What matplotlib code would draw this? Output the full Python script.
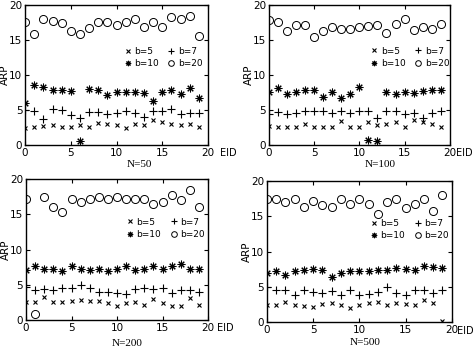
import matplotlib
matplotlib.use("Agg")
import matplotlib.pyplot as plt

eid = list(range(20))
panels = ["N=50", "N=100", "N=200", "N=500"]

# ARP values per panel, one list per b
b5_n50 = [2.4, 2.6, 2.7, 2.9, 2.6, 2.6, 2.9, 2.5, 3.1, 3.0, 2.8, 2.4, 3.0, 2.9, 3.5, 3.2, 3.0, 2.9, 3.0, 2.6]
b7_n50 = [5.0, 4.9, 3.7, 5.1, 5.0, 4.2, 3.8, 4.7, 4.7, 4.4, 4.5, 4.9, 4.5, 4.0, 4.8, 4.9, 5.1, 4.4, 4.6, 4.5]
b10_n50 = [6.0, 8.6, 8.2, 7.9, 7.8, 7.7, 0.5, 8.0, 7.8, 7.1, 7.6, 7.5, 7.6, 7.4, 6.2, 7.5, 7.8, 7.2, 8.1, 6.7]
b20_n50 = [17.5, 15.8, 18.0, 17.7, 17.4, 16.3, 15.8, 16.7, 17.5, 17.6, 17.1, 17.6, 18.0, 16.8, 17.5, 16.9, 18.2, 18.0, 18.4, 15.6]

b5_n100 = [2.7, 2.6, 2.5, 2.5, 3.0, 2.6, 2.5, 2.5, 3.4, 2.6, 2.6, 3.2, 2.8, 3.0, 3.2, 2.5, 3.5, 3.2, 3.0, 2.6]
b7_n100 = [4.4, 4.7, 4.4, 4.5, 4.8, 4.8, 4.9, 4.6, 4.9, 4.5, 4.9, 4.9, 3.9, 4.8, 4.8, 4.4, 4.5, 3.8, 4.5, 4.9]
b10_n100 = [7.6, 8.1, 7.2, 7.5, 7.9, 7.8, 6.8, 7.6, 6.7, 7.3, 8.2, 0.7, 0.6, 7.5, 7.2, 7.5, 7.4, 7.7, 7.8, 7.9]
b20_n100 = [17.8, 17.5, 16.3, 17.1, 17.1, 15.4, 16.3, 16.8, 16.5, 16.6, 16.9, 17.0, 17.1, 16.0, 17.2, 18.0, 16.4, 16.8, 16.5, 17.2]

b5_n200 = [2.6, 2.6, 3.2, 2.5, 2.5, 2.7, 2.8, 2.7, 2.7, 2.4, 2.0, 2.4, 2.6, 2.1, 3.0, 2.4, 2.0, 2.0, 3.1, 2.1]
b7_n200 = [4.7, 4.2, 4.4, 4.2, 4.5, 4.6, 4.9, 4.5, 4.0, 4.0, 3.8, 3.7, 4.4, 4.6, 4.4, 4.5, 3.9, 4.2, 4.2, 4.0]
b10_n200 = [7.1, 7.7, 7.3, 7.3, 6.9, 7.7, 7.3, 7.1, 7.3, 7.0, 7.3, 7.6, 7.1, 7.3, 7.7, 7.2, 7.7, 8.0, 7.3, 7.3]
b20_n200 = [17.1, 0.9, 17.4, 16.0, 15.3, 17.1, 16.7, 17.2, 17.5, 17.1, 17.5, 17.1, 17.2, 17.1, 16.5, 16.7, 17.7, 17.0, 18.4, 16.1]

b5_n500 = [2.4, 2.4, 2.8, 2.4, 2.3, 2.2, 2.6, 2.7, 2.5, 2.0, 2.5, 2.7, 2.9, 2.4, 2.7, 2.6, 2.5, 3.1, 2.7, 0.1]
b7_n500 = [5.0, 4.6, 4.5, 3.9, 4.5, 4.3, 4.2, 4.4, 3.8, 4.5, 3.9, 4.0, 4.3, 5.0, 4.2, 3.8, 4.6, 4.6, 4.2, 4.6]
b10_n500 = [6.9, 7.2, 6.7, 7.2, 7.4, 7.5, 7.4, 6.4, 7.0, 7.3, 7.2, 7.3, 7.4, 7.4, 7.7, 7.5, 7.4, 7.9, 7.8, 7.7]
b20_n500 = [17.5, 17.4, 17.0, 17.5, 16.4, 17.2, 16.6, 16.3, 17.4, 16.7, 17.4, 16.8, 15.3, 17.1, 17.4, 16.2, 16.7, 17.4, 15.7, 18.0]

data = [
    (b5_n50, b7_n50, b10_n50, b20_n50),
    (b5_n100, b7_n100, b10_n100, b20_n100),
    (b5_n200, b7_n200, b10_n200, b20_n200),
    (b5_n500, b7_n500, b10_n500, b20_n500),
]

# layout (figure fractions)
boxes = [
    [0.053, 0.585, 0.386, 0.401],
    [0.567, 0.585, 0.382, 0.401],
    [0.055, 0.083, 0.384, 0.404],
    [0.563, 0.077, 0.390, 0.404],
]
title_pos = [(0.626, -0.14), (0.613, -0.14), (0.555, -0.165), (0.53, -0.145)]
eid_x = [1.065, 1.035, 1.05, 1.03]
legend_pos = [(0.53, 0.71), (0.554, 0.715), (0.54, 0.74), (0.55, 0.745)]

fig = plt.figure(figsize=(4.74, 3.49), dpi=100)

for i in range(4):
    ax = fig.add_axes(boxes[i])
    b5, b7, b10, b20 = data[i]
    ax.plot(eid, b5, "x", color="black", ms=3.2, mew=0.8, label="b=5")
    ax.plot(eid, b10, marker=(8, 2, 0), ls="none", color="black", ms=5.5, mew=0.75, label="b=10")
    ax.plot(eid, b7, "+", color="black", ms=5.5, mew=0.8, label="b=7")
    ax.plot(eid, b20, "o", color="black", mfc="none", ms=5.8, mew=0.7, label="b=20")

    ax.set_xlim(0, 20)
    ax.set_ylim(0, 20)
    ax.set_xticks([0, 5, 10, 15, 20])
    ax.set_yticks([0, 5, 10, 15, 20])
    ax.tick_params(direction="in", top=True, right=True, length=3, width=0.8,
                   labelsize=7.5, pad=2)
    for s in ax.spines.values():
        s.set_linewidth(1.0)
    ax.set_ylabel("ARP", fontsize=7.5, labelpad=-0.5)
    ax.text(eid_x[i], -0.06, "EID", transform=ax.transAxes, fontsize=7,
            ha="left", va="center")
    ax.text(title_pos[i][0], title_pos[i][1], panels[i], transform=ax.transAxes,
            fontsize=8, family="Liberation Serif", ha="center", va="center")

    h, l = ax.get_legend_handles_labels()
    ax.legend(h, l, ncol=2, frameon=False, loc="upper left",
              bbox_to_anchor=legend_pos[i], fontsize=6.5, markerscale=0.7,
              handlelength=0.8, handletextpad=0.32, columnspacing=1.0,
              labelspacing=0.35, borderpad=0.2, borderaxespad=0)

fig.savefig("out.png", dpi=100)
